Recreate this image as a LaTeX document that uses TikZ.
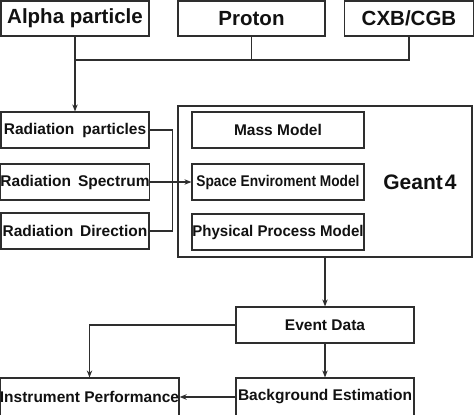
\documentclass[tikz,border=0pt]{standalone}
\usepackage{fontspec}
\setmainfont{Liberation Sans}
\usetikzlibrary{arrows.meta}
\definecolor{ln}{HTML}{2E2E2E}
\definecolor{tx}{HTML}{111111}
\tikzset{
  box/.style={draw=ln, line width=1.2pt, inner sep=0pt, minimum height=36pt, text=tx, font=\fontsize{15.5}{18}\selectfont\bfseries},
  topbox/.style={box, font=\fontsize{20.5}{24}\selectfont\bfseries},
  conn/.style={draw=ln, line width=1.1pt},
  arr/.style={conn, -{Stealth[length=7pt,width=5.5pt]}}
}
\begin{document}
\begin{tikzpicture}[x=1pt,y=-1pt]
\useasboundingbox (0,0) rectangle (474,415);
% top row
\node[topbox, minimum width=148pt, minimum height=35pt] (alpha) at (75,18.5) {Alpha particle};
\node[topbox, minimum width=147pt, minimum height=35pt] (proton) at (251.5,18.5) {Proton};
\node[topbox, minimum width=129pt, minimum height=35pt] (cxb) at (409,18.5) {CXB/CGB};
% radiation column
\node[box, minimum width=148pt] (radp) at (75,130) {Radiation\hspace{8pt}particles};
\node[box, minimum width=148pt] (rads) at (75,182) {Radiation\hspace{7pt}Spectrum};
\node[box, minimum width=148pt] (radd) at (75,231) {Radiation\hspace{7pt}Direction};
% Geant4 block
\node[draw=ln, line width=1.2pt, minimum width=294pt, minimum height=151pt, inner sep=0pt] (geant) at (325,181.5) {};
\node[box, minimum width=172pt] (mass) at (278,130) {Mass Model};
\node[box, minimum width=172pt] (space) at (278,182) {\scalebox{0.885}[1]{Space Enviroment Model}};
\node[box, minimum width=172pt] (phys) at (278,232) {\scalebox{0.97}[1]{Physical Process Model}};
\node[text=tx, font=\fontsize{21}{24}\selectfont\bfseries, inner sep=0pt] (g4) at (420,182) {Geant\kern2pt4};
% bottom
\node[box, minimum width=178pt] (event) at (325,325) {Event Data};
\node[box, minimum width=178pt, minimum height=38pt] (bg) at (325,397) {Background Estimation};
\node[box, minimum width=177pt, minimum height=38pt] (instr) at (89.5,397) {Instrument Performance};
% connectors
\coordinate (j) at (75,60);
\draw[conn] (alpha.south) -- (j);
\draw[conn] (proton.south) |- (j);
\draw[conn] (cxb.south) |- (j);
\draw[arr] (j) -- (radp.north);
\draw[conn] (radp.east) -- ++(23,0) |- (radd.east);
\draw[arr] (rads.east) -- (space.west);
\draw[arr] (geant.south) -- (event.north);
\draw[arr] (event.west) -| (instr.north);
\draw[arr] (event.south) -- (bg.north);
\draw[arr] (bg.west) -- (instr.east);
\end{tikzpicture}
\end{document}
